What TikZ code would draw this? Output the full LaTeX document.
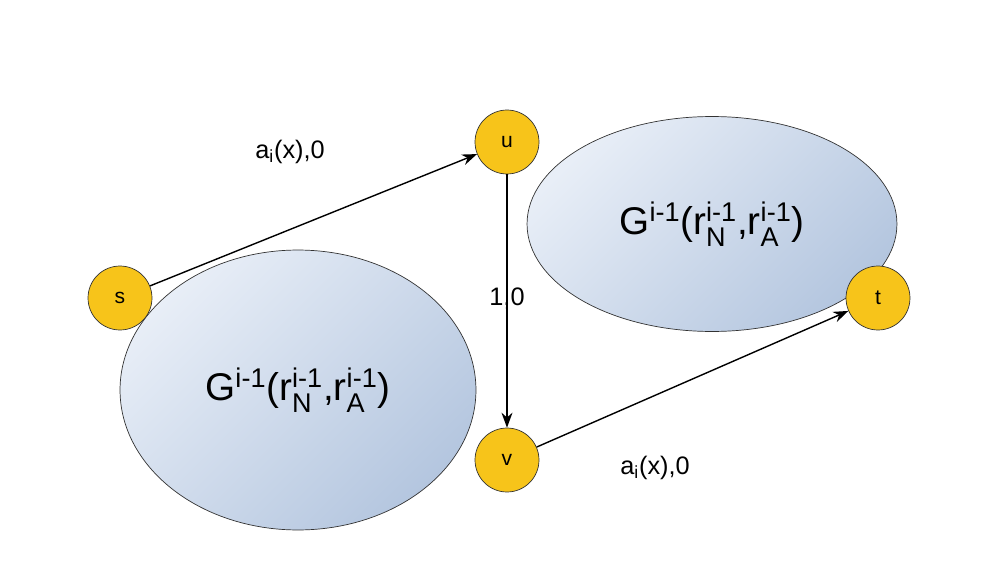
\documentclass[tikz,border=0pt]{standalone}
\usepackage{amsmath}
\usepackage{fontspec}
\setmainfont{Liberation Sans}
\usetikzlibrary{shapes.geometric,arrows.meta}
\definecolor{vfill}{HTML}{F7C41A}
\definecolor{gbluelo}{HTML}{E8EEF7}
\definecolor{gbluehi}{HTML}{B4C6DF}
\newcommand{\glabel}{G$^{\text{i-1}}$($\text{r}_{\text{N}}^{\text{i-1}}$,$\text{r}_{\text{A}}^{\text{i-1}}$)}
\begin{document}
\begin{tikzpicture}[x=0.02cm, y=-0.02cm,
		vert/.style={circle, draw=black!80, fill=vfill, minimum size=1.28cm, inner sep=0pt, font=\large},
		blob/.style={ellipse, draw=black!80, left color=gbluelo, right color=gbluehi, shading angle=45, inner sep=0pt, font=\fontsize{22}{26}\selectfont},
		edge/.style={-{Stealth[length=3mm,width=2.2mm]}, thick}]
		\useasboundingbox (0,0) rectangle (1002,585);

		% the two sub graphs
		\node[blob, minimum width=7.12cm, minimum height=5.6cm] (gl) at (298,390) {\glabel};
		\node[blob, minimum width=7.4cm, minimum height=4.3cm] (gr) at (712,224) {\glabel};

		% vertices
		\node[vert] (s) at (120,298) {s};
		\node[vert] (u) at (507,142) {u};
		\node[vert] (v) at (507,460) {v};
		\node[vert] (t) at (878,298) {t};

		\draw[edge] (s) -- (u);
		\draw[edge] (u) -- (v);
		\draw[edge] (v) -- (t);

		\node[font=\Large] (lsu) at (290,152) {a$_{\text{i}}$(x),0};
		\node[font=\Large] (luv) at (507,298) {1,0};
		\node[font=\Large] (lvt) at (655,468) {a$_{\text{i}}$(x),0};
	\end{tikzpicture}
\end{document}
